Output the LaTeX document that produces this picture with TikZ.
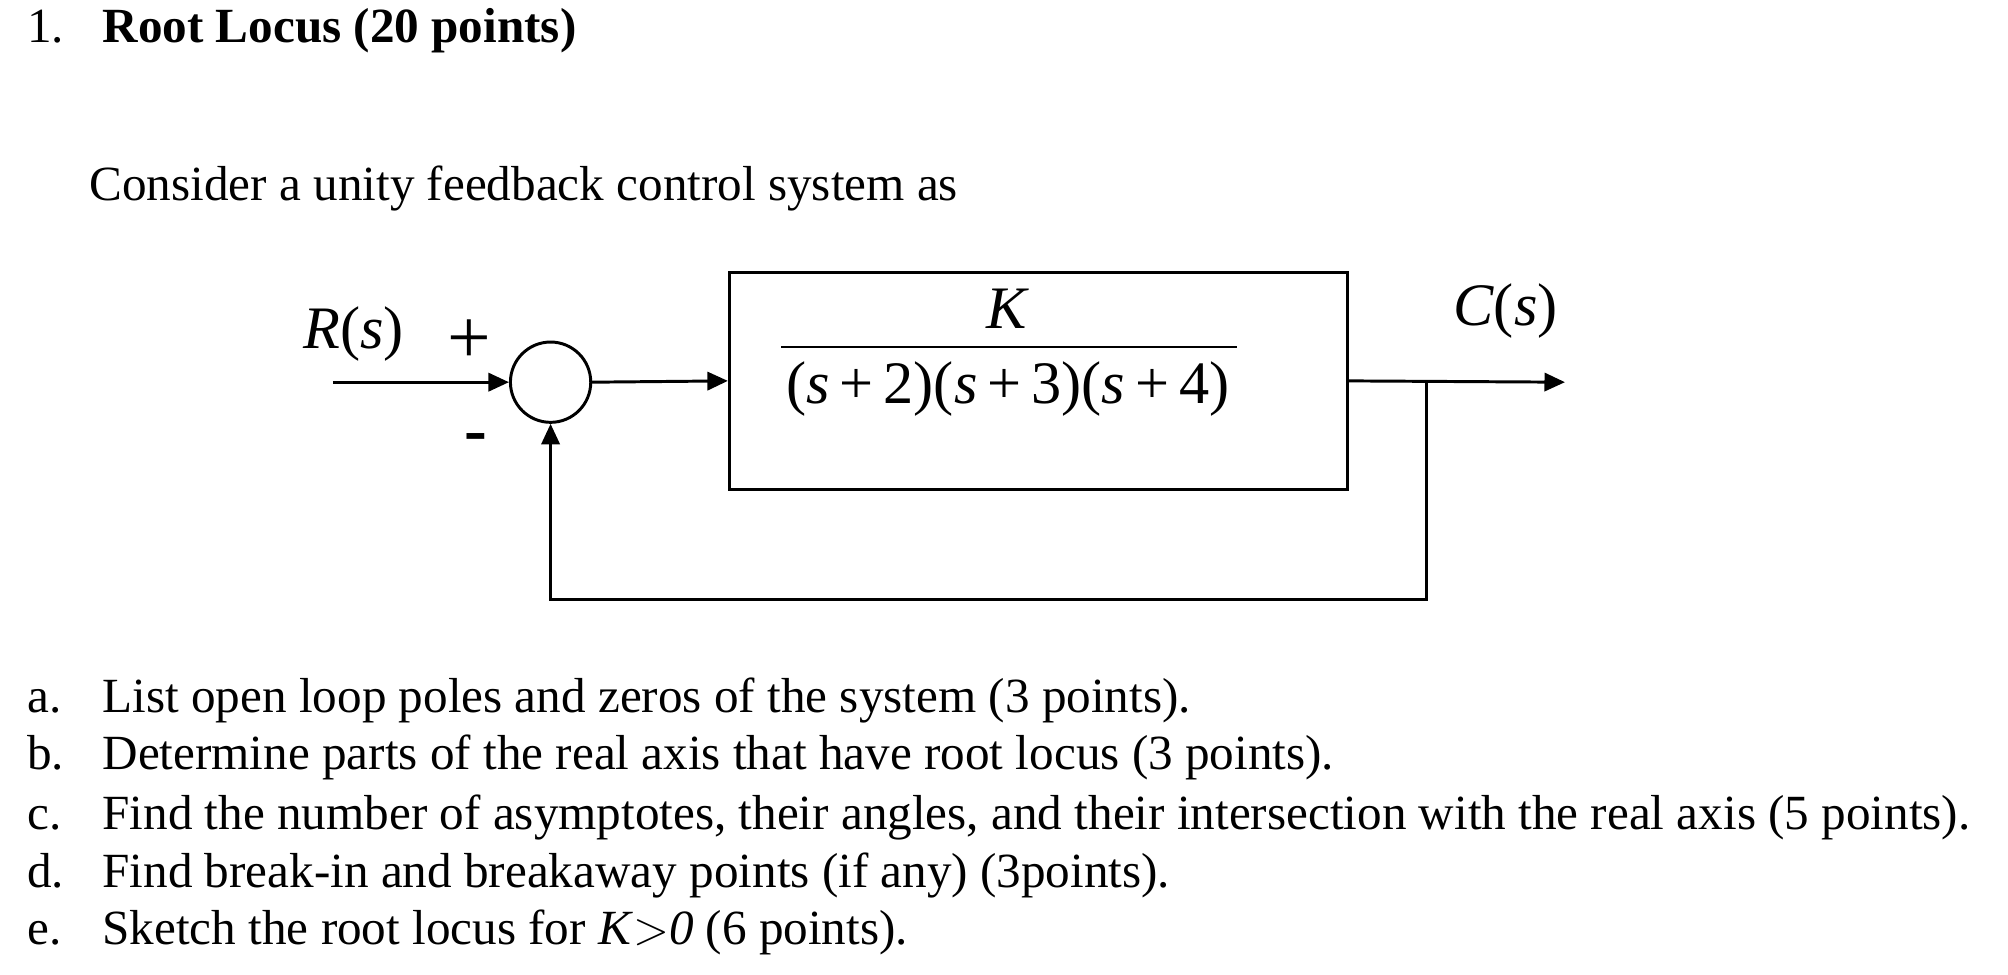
\documentclass[tikz,border=0pt]{standalone}
\usepackage{fontspec}
\setmainfont{Liberation Serif}
\usetikzlibrary{arrows.meta}
\begin{document}
\begin{tikzpicture}[x=0.02cm,y=-0.02cm,>={Triangle[length=9pt,width=8pt]},line width=1.3pt,
  txt/.style={anchor=base west,inner sep=0pt,font=\fontsize{21.6}{24}\selectfont},
  lbl/.style={inner sep=0pt,font=\fontsize{26.5}{30}\selectfont},
  sum node/.style={circle,draw,minimum size=62\pgflinewidth,inner sep=0pt}]
\useasboundingbox (0,0) rectangle (1550,752);
% heading
\node[txt] (num) at (20,33) {1.};
\node[txt,font=\fontsize{21.6}{24}\selectfont\bfseries] (head) at (78,33) {Root Locus (20 points)};
\node[txt] (intro) at (68,155) {Consider a unity feedback control system as};
% block diagram
\node[sum node,minimum size=62*0.02cm] (S) at (425,295) {};
\node[draw,minimum width=477*0.02cm,minimum height=168*0.02cm,inner sep=0pt] (G) at (801.5,294) {};
\node[lbl] (num K) at (778,238) {\textit{K}};
\draw[line width=1pt] (603,268) -- (955,268);
\node[lbl] (den) at (778,300) {(\textit{s}\,+\,2)(\textit{s}\,+\,3)(\textit{s}\,+\,4)};
\coordinate (in) at (257,295);
\coordinate (out) at (1208,295);
\coordinate (br) at (1101,295);
\coordinate (fb) at (1101,463);
\node[lbl] (R) at (273,258) {\textit{R}(\textit{s})};
\node[lbl,font=\fontsize{34}{34}\selectfont] (plus) at (362,264) {+};
\node[lbl,font=\fontsize{30}{30}\bfseries\selectfont] (minus) at (367,342) {-};
\node[lbl] (C) at (1162,240) {\textit{C}(\textit{s})};
\draw[->] (in) -- (S.west);
\draw[->] (S.east) -- (G.west);
\draw[->] (G.east) -- (out);
\draw[->] (br) -- (fb) -| (S.south);
% questions
\foreach \y/\l/\t in {550/a./{List open loop poles and zeros of the system (3 points).},
  594/b./{Determine parts of the real axis that have root locus (3 points).},
  640/c./{Find the number of asymptotes, their angles, and their intersection with the real axis (5 points).},
  685/d./{Find break-in and breakaway points (if any) (3points).},
  729/e./{Sketch the root locus for \textit{K}$>$\textit{0} (6 points).}}
{\node[txt] at (20,\y) {\l}; \node[txt] at (78,\y) {\t};}
\end{tikzpicture}
\end{document}
